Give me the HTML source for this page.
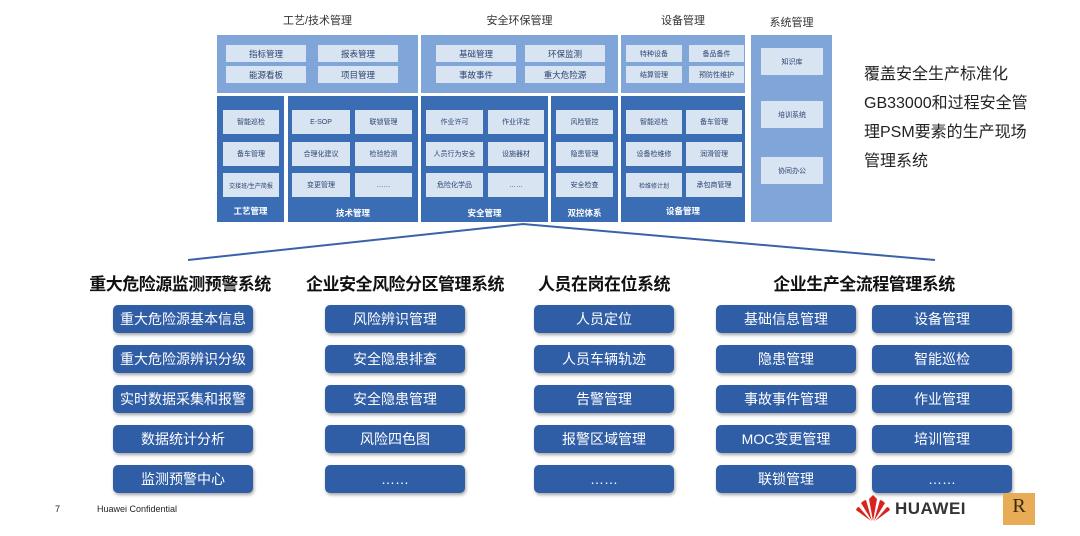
<!DOCTYPE html>
<html><head><meta charset="utf-8"><style>
*{margin:0;padding:0;box-sizing:border-box}
body{width:1080px;height:536px;background:#fff;position:relative;overflow:hidden;font-family:"Liberation Sans","Noto Sans CJK SC",sans-serif}
.a{position:absolute}
.t{position:absolute;font-size:11px;color:#333;text-align:center}
.lp{position:absolute;background:#7fa5d9}
.dp{position:absolute;background:#3b6db5}
.ib{position:absolute;background:#d9e4f2;color:#2b4470;font-size:7px;display:flex;align-items:center;justify-content:center;white-space:nowrap}
.ib.m{font-size:8.5px}
.lb{position:absolute;color:#fff;font-size:8.5px;font-weight:bold;text-align:center}
.btn{position:absolute;width:140px;height:28px;background:#2f5da6;border-radius:5px;color:#fff;font-size:14px;display:flex;align-items:center;justify-content:center;box-shadow:1px 2px 3px rgba(0,0,0,.35)}
.h{position:absolute;font-size:17px;font-weight:bold;color:#111;text-align:center;white-space:nowrap;letter-spacing:-0.5px}
</style></head><body>
<div class="t" style="left:217px;top:12px;width:201px">工艺/技术管理</div>
<div class="t" style="left:421px;top:12px;width:197px">安全环保管理</div>
<div class="t" style="left:621px;top:12px;width:124px">设备管理</div>
<div class="t" style="left:751px;top:14px;width:81px">系统管理</div>

<div class="lp" style="left:217px;top:35px;width:201px;height:58px"></div>
<div class="lp" style="left:421px;top:35px;width:197px;height:58px"></div>
<div class="lp" style="left:621px;top:35px;width:124px;height:58px"></div>
<div class="lp" style="left:751px;top:35px;width:81px;height:187px"></div>

<div class="ib m" style="left:226px;top:45px;width:80px;height:17px">指标管理</div>
<div class="ib m" style="left:318px;top:45px;width:80px;height:17px">报表管理</div>
<div class="ib m" style="left:226px;top:66px;width:80px;height:17px">能源看板</div>
<div class="ib m" style="left:318px;top:66px;width:80px;height:17px">项目管理</div>
<div class="ib m" style="left:436px;top:45px;width:80px;height:17px">基础管理</div>
<div class="ib m" style="left:525px;top:45px;width:80px;height:17px">环保监测</div>
<div class="ib m" style="left:436px;top:66px;width:80px;height:17px">事故事件</div>
<div class="ib m" style="left:525px;top:66px;width:80px;height:17px">重大危险源</div>
<div class="ib" style="left:626px;top:45px;width:56px;height:17px">特种设备</div>
<div class="ib" style="left:689px;top:45px;width:55px;height:17px">备品备件</div>
<div class="ib" style="left:626px;top:66px;width:56px;height:17px">结算管理</div>
<div class="ib" style="left:689px;top:66px;width:55px;height:17px">预防性维护</div>
<div class="ib" style="left:761px;top:48px;width:62px;height:27px">知识库</div>
<div class="ib" style="left:761px;top:101px;width:62px;height:27px">培训系统</div>
<div class="ib" style="left:761px;top:157px;width:62px;height:27px">协同办公</div>

<div class="dp" style="left:217px;top:96px;width:67px;height:126px"></div>
<div class="dp" style="left:288px;top:96px;width:130px;height:126px"></div>
<div class="dp" style="left:421px;top:96px;width:127px;height:126px"></div>
<div class="dp" style="left:551px;top:96px;width:67px;height:126px"></div>
<div class="dp" style="left:621px;top:96px;width:124px;height:126px"></div>

<div class="ib" style="left:223px;top:110px;width:56px;height:24px">智能巡检</div>
<div class="ib" style="left:223px;top:142px;width:56px;height:24px">备车管理</div>
<div class="ib" style="left:223px;top:173px;width:56px;height:24px;font-size:6px">交接班/生产简报</div>
<div class="ib" style="left:292px;top:110px;width:58px;height:24px">E-SOP</div>
<div class="ib" style="left:355px;top:110px;width:57px;height:24px">联锁管理</div>
<div class="ib" style="left:292px;top:142px;width:58px;height:24px">合理化建议</div>
<div class="ib" style="left:355px;top:142px;width:57px;height:24px">检验检测</div>
<div class="ib" style="left:292px;top:173px;width:58px;height:24px">变更管理</div>
<div class="ib" style="left:355px;top:173px;width:57px;height:24px">……</div>
<div class="ib" style="left:426px;top:110px;width:57px;height:24px">作业许可</div>
<div class="ib" style="left:488px;top:110px;width:56px;height:24px">作业评定</div>
<div class="ib" style="left:426px;top:142px;width:57px;height:24px">人员行为安全</div>
<div class="ib" style="left:488px;top:142px;width:56px;height:24px">设施器材</div>
<div class="ib" style="left:426px;top:173px;width:57px;height:24px">危险化学品</div>
<div class="ib" style="left:488px;top:173px;width:56px;height:24px">……</div>
<div class="ib" style="left:556px;top:110px;width:57px;height:24px">风险管控</div>
<div class="ib" style="left:556px;top:142px;width:57px;height:24px">隐患管理</div>
<div class="ib" style="left:556px;top:173px;width:57px;height:24px">安全检查</div>
<div class="ib" style="left:626px;top:110px;width:56px;height:24px">智能巡检</div>
<div class="ib" style="left:686px;top:110px;width:56px;height:24px">备车管理</div>
<div class="ib" style="left:626px;top:142px;width:56px;height:24px">设备检维修</div>
<div class="ib" style="left:686px;top:142px;width:56px;height:24px">润滑管理</div>
<div class="ib" style="left:626px;top:173px;width:56px;height:24px;font-size:6px">检维修计划</div>
<div class="ib" style="left:686px;top:173px;width:56px;height:24px">承包商管理</div>

<div class="lb" style="left:217px;top:205px;width:67px">工艺管理</div>
<div class="lb" style="left:288px;top:207px;width:130px">技术管理</div>
<div class="lb" style="left:421px;top:207px;width:127px">安全管理</div>
<div class="lb" style="left:551px;top:207px;width:67px">双控体系</div>
<div class="lb" style="left:621px;top:205px;width:124px">设备管理</div>

<div class="a" style="left:864px;top:60px;font-size:16px;line-height:29px;color:#222;width:215px">覆盖安全生产标准化<br>GB33000和过程安全管<br>理PSM要素的生产现场<br>管理系统</div>

<svg class="a" style="left:0;top:0" width="1080" height="536"><polyline points="188,260 523,224 935,260" fill="none" stroke="#3a62a8" stroke-width="2"/></svg>

<div class="h" style="left:80px;top:270px;width:200px">重大危险源监测预警系统</div>
<div class="h" style="left:295px;top:270px;width:220px">企业安全风险分区管理系统</div>
<div class="h" style="left:504px;top:270px;width:200px">人员在岗在位系统</div>
<div class="h" style="left:764px;top:270px;width:200px">企业生产全流程管理系统</div>

<div class="btn" style="left:113px;top:305px">重大危险源基本信息</div>
<div class="btn" style="left:113px;top:345px">重大危险源辨识分级</div>
<div class="btn" style="left:113px;top:385px">实时数据采集和报警</div>
<div class="btn" style="left:113px;top:425px">数据统计分析</div>
<div class="btn" style="left:113px;top:465px">监测预警中心</div>
<div class="btn" style="left:325px;top:305px">风险辨识管理</div>
<div class="btn" style="left:325px;top:345px">安全隐患排查</div>
<div class="btn" style="left:325px;top:385px">安全隐患管理</div>
<div class="btn" style="left:325px;top:425px">风险四色图</div>
<div class="btn" style="left:325px;top:465px">……</div>
<div class="btn" style="left:534px;top:305px">人员定位</div>
<div class="btn" style="left:534px;top:345px">人员车辆轨迹</div>
<div class="btn" style="left:534px;top:385px">告警管理</div>
<div class="btn" style="left:534px;top:425px">报警区域管理</div>
<div class="btn" style="left:534px;top:465px">……</div>
<div class="btn" style="left:716px;top:305px">基础信息管理</div>
<div class="btn" style="left:716px;top:345px">隐患管理</div>
<div class="btn" style="left:716px;top:385px">事故事件管理</div>
<div class="btn" style="left:716px;top:425px">MOC变更管理</div>
<div class="btn" style="left:716px;top:465px">联锁管理</div>
<div class="btn" style="left:872px;top:305px">设备管理</div>
<div class="btn" style="left:872px;top:345px">智能巡检</div>
<div class="btn" style="left:872px;top:385px">作业管理</div>
<div class="btn" style="left:872px;top:425px">培训管理</div>
<div class="btn" style="left:872px;top:465px">……</div>

<div class="a" style="left:55px;top:504px;font-size:9px;color:#222">7</div>
<div class="a" style="left:97px;top:504px;font-size:9px;color:#222">Huawei Confidential</div>

<svg class="a" style="left:855px;top:495px" width="36" height="28" viewBox="0 0 36 28">
<g fill="#d8231c">
<path d="M18 26 L14 4 Q17 1 18 0 Z"/><path d="M18 26 L22 4 Q19 1 18 0 Z"/>
<path d="M17 26 L6 8 Q9 5 11 5 Z"/><path d="M19 26 L30 8 Q27 5 25 5 Z"/>
<path d="M16 26 L1 15 Q2 12 4 12 Z"/><path d="M20 26 L35 15 Q34 12 32 12 Z"/>
</g></svg>
<div class="a" style="left:895px;top:499px;font-size:17px;font-weight:bold;color:#333;letter-spacing:0.5px">HUAWEI</div>
<div class="a" style="left:1003px;top:493px;width:32px;height:32px;background:#e7ac55;color:#3a2a10;font-family:'Liberation Serif',serif;font-size:20px;text-align:center;line-height:26px">R</div>
</body></html>
